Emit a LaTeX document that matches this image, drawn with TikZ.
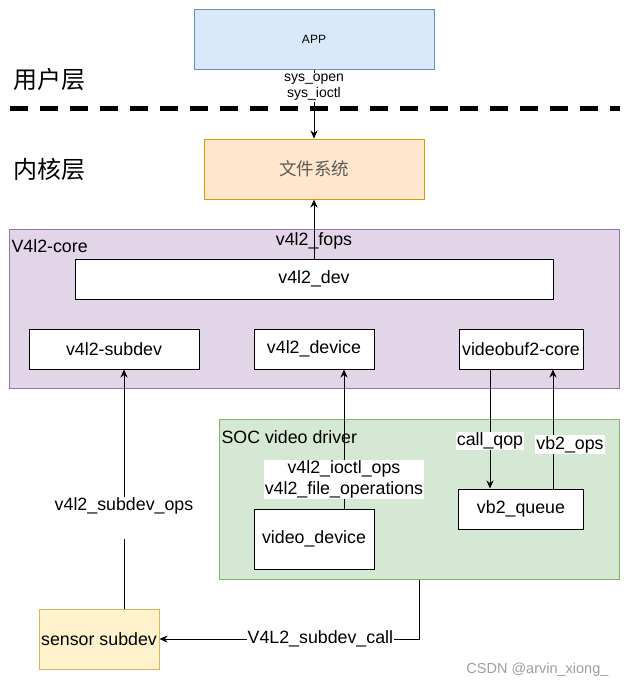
\documentclass[tikz,border=0pt]{standalone}
\usepackage{fontspec}
\setmainfont{Liberation Sans}
\newfontfamily\cjk{Noto Sans CJK SC}
\usetikzlibrary{arrows.meta}
\definecolor{appfill}{HTML}{DAE8FC}
\definecolor{appdraw}{HTML}{6C8EBF}
\definecolor{fsfill}{HTML}{FFE6CC}
\definecolor{fsdraw}{HTML}{D79B00}
\definecolor{corefill}{HTML}{E1D5E7}
\definecolor{coredraw}{HTML}{9673A6}
\definecolor{socfill}{HTML}{D5E8D4}
\definecolor{socdraw}{HTML}{82B366}
\definecolor{sensorfill}{HTML}{FFF2CC}
\definecolor{sensordraw}{HTML}{D6B656}

\begin{document}
\begin{tikzpicture}[
    x=1pt, y=-1pt,
    font=\fontsize{17.8}{21}\selectfont,
    block/.style={draw, fill=white, line width=1pt, inner sep=0pt},
    group/.style={block, minimum width=#1},
    layer/.style={font=\cjk\fontsize{24}{28}\selectfont},
    link/.style={line width=1pt, -{Stealth[length=8pt, width=7pt]}},
    opslabel/.style={fill=white, inner sep=1pt, align=center}]

\useasboundingbox (0,0) rectangle (628,689);

% User space / kernel space
\node[layer] (user) at (49,79) {用户层};
\node[layer] (kernel) at (49,169) {内核层};
\coordinate (sepleft) at (10,108);
\coordinate (sepright) at (620,108);
\draw[line width=5pt, dash pattern=on 18pt off 12pt] (sepleft) -- (sepright);

% Top boxes
\node[block, fill=appfill, draw=appdraw, minimum width=240, minimum height=60,
      font=\fontsize{12}{14}\selectfont] (app) at (314,39) {APP};
\node[block, fill=fsfill, draw=fsdraw, minimum width=220, minimum height=60,
      text={rgb,255:red,90;green,90;blue,90}, font=\cjk\fontsize{17.5}{21}\selectfont] (fs) at (314,169) {文件系统};

% V4l2-core
\node[group=610, fill=corefill, draw=coredraw, minimum height=159] (core) at (314,308.5) {};
\node[anchor=west] (coretitle) at (8,246) {V4l2-core};
\node[block, minimum width=478, minimum height=40] (dev) at (314,279) {v4l2\_dev};
\node[block, minimum width=170, minimum height=40] (subdev) at (114,349) {v4l2-subdev};
\node[block, minimum width=120, minimum height=40] (device) at (314,349) {v4l2\_device};
\node[block, minimum width=124, minimum height=40] (vbcore) at (521,349) {videobuf2-core};

% SOC video driver
\node[group=400, fill=socfill, draw=socdraw, minimum height=160] (soc) at (419,499) {};
\node[anchor=west] (soctitle) at (218,437) {SOC video driver};
\node[block, minimum width=120, minimum height=60] (vdev) at (314,539) {video\_device};
\node[block, minimum width=125, minimum height=40] (queue) at (521,509) {vb2\_queue};

% Sensor
\node[block, fill=sensorfill, draw=sensordraw, minimum width=120, minimum height=60] (sensor) at (99,639) {sensor subdev};

% Connectors
\draw[link] (app) -- node[opslabel, pos=0.257, font=\fontsize{14}{16.5}\selectfont] {sys\_open\\sys\_ioctl} (fs);
\draw[link] (dev) -- node[pos=0.3] {v4l2\_fops} (fs);
\draw[link] ([xshift=30pt]vdev.north) -- node[opslabel, pos=0.21] {v4l2\_ioctl\_ops\\v4l2\_file\_operations} ([xshift=30pt]device.south);
\draw[link] ([xshift=-31pt]vbcore.south) -- node[opslabel, pos=0.6] {call\_qop} ([xshift=-31pt]queue.north);
\draw[link] ([xshift=32pt]queue.north) -- node[opslabel, pos=0.37, xshift=17pt] {vb2\_ops} ([xshift=32pt]vbcore.south);
\draw[link] ([xshift=25pt]sensor.north) -- node[opslabel, pos=0.38] {v4l2\_subdev\_ops\\\strut} ([xshift=10pt]subdev.south);
\draw[link] (soc.south) |- node[opslabel, pos=0.69] {V4L2\_subdev\_call} (sensor.east);

% Watermark
\node[anchor=east, text=gray!75, font=\fontsize{14.5}{17}\selectfont] (mark) at (612,670) {CSDN @arvin\_xiong\_};

\end{tikzpicture}
\end{document}
